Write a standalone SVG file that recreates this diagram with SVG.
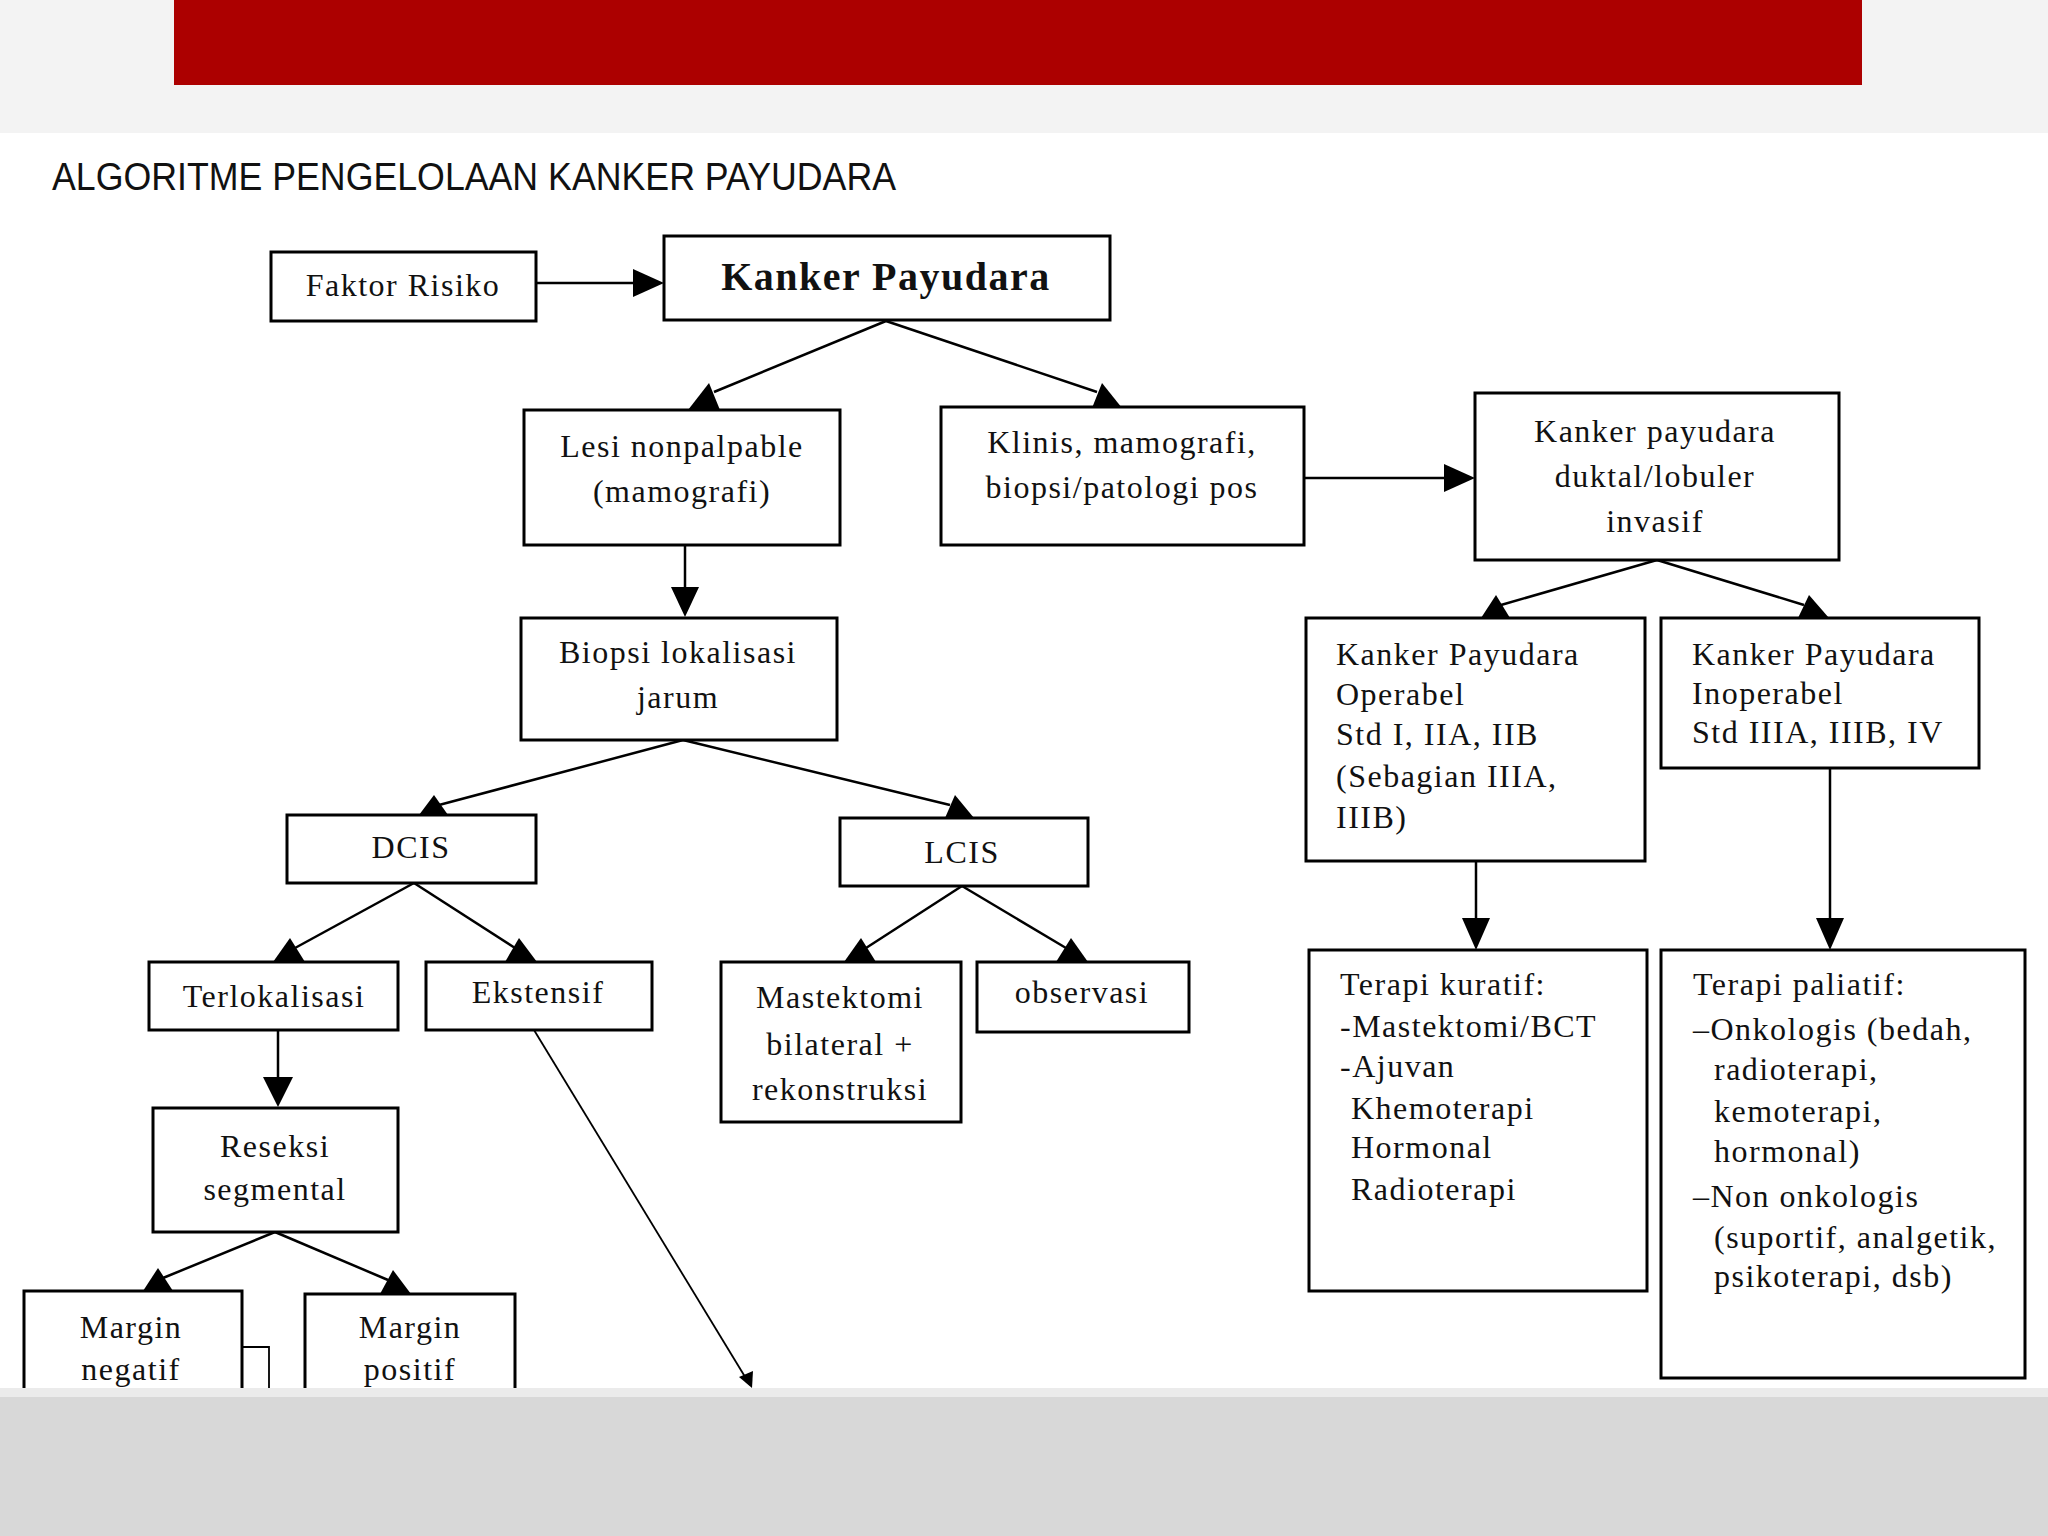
<svg xmlns="http://www.w3.org/2000/svg" width="2048" height="1536" viewBox="0 0 2048 1536">
<style>
.box{fill:#fff;stroke:#000;stroke-width:3}
.t{font-family:"Liberation Serif","Times New Roman",serif;font-size:32px;fill:#111;letter-spacing:1.5px}
.c{text-anchor:middle}
.b{font-weight:bold;font-size:40px}
.ln{stroke:#000;stroke-width:2.5;fill:none}
.thin{stroke:#000;stroke-width:1.8;fill:none}
.ah{fill:#000}
</style>
<rect x="0" y="0" width="2048" height="1536" fill="#ffffff"/>
<rect x="0" y="0" width="2048" height="133" fill="#f3f3f3"/>
<rect x="174" y="0" width="1688" height="85" fill="#ac0000"/>
<text x="52" y="190" font-family="'Liberation Sans',Arial,sans-serif" font-size="39" fill="#111" textLength="844" lengthAdjust="spacingAndGlyphs">ALGORITME PENGELOLAAN KANKER PAYUDARA</text>

<g id="connectors">
  <line class="ln" x1="536" y1="283" x2="636" y2="283"/>
  <polygon class="ah" points="633,269 664,283 633,297"/>
  <line class="ln" x1="886" y1="321" x2="714" y2="392"/>
  <polygon class="ah" points="709,383 720,410 688,410"/>
  <line class="ln" x1="886" y1="321" x2="1097" y2="392"/>
  <polygon class="ah" points="1102,383 1122,408 1092,408"/>
  <line class="ln" x1="1304" y1="478" x2="1446" y2="478"/>
  <polygon class="ah" points="1444,464 1475,478 1444,492"/>
  <line class="ln" x1="1657" y1="560" x2="1501" y2="605"/>
  <polygon class="ah" points="1496,595 1510,618 1481,618"/>
  <line class="ln" x1="1657" y1="560" x2="1804" y2="605"/>
  <polygon class="ah" points="1809,595 1829,618 1798,618"/>
  <line class="ln" x1="685" y1="545" x2="685" y2="590"/>
  <polygon class="ah" points="671,587 699,587 685,617"/>
  <line class="ln" x1="683" y1="740" x2="439" y2="805"/>
  <polygon class="ah" points="434,795 448,815 419,815"/>
  <line class="ln" x1="683" y1="740" x2="950" y2="805"/>
  <polygon class="ah" points="955,795 974,818 945,818"/>
  <line class="ln" x1="414" y1="883" x2="295" y2="948"/>
  <polygon class="ah" points="290,938 305,962 273,962"/>
  <line class="ln" x1="414" y1="883" x2="515" y2="948"/>
  <polygon class="ah" points="519,938 537,962 505,962"/>
  <line class="ln" x1="962" y1="886" x2="866" y2="948"/>
  <polygon class="ah" points="861,938 876,962 844,962"/>
  <line class="ln" x1="962" y1="886" x2="1066" y2="948"/>
  <polygon class="ah" points="1071,938 1088,962 1056,962"/>
  <line class="ln" x1="278" y1="1030" x2="278" y2="1080"/>
  <polygon class="ah" points="263,1077 293,1077 278,1107"/>
  <line class="ln" x1="275" y1="1232" x2="163" y2="1278"/>
  <polygon class="ah" points="158,1268 173,1291 143,1291"/>
  <line class="ln" x1="275" y1="1232" x2="388" y2="1280"/>
  <polygon class="ah" points="393,1270 411,1294 380,1294"/>
  <line class="ln" x1="1476" y1="861" x2="1476" y2="921"/>
  <polygon class="ah" points="1462,918 1490,918 1476,950"/>
  <line class="ln" x1="1830" y1="768" x2="1830" y2="921"/>
  <polygon class="ah" points="1816,918 1844,918 1830,950"/>
  <line class="thin" x1="534" y1="1030" x2="750" y2="1385"/>
  <polygon class="ah" points="739,1377 752,1388 753,1371"/>
  <polyline class="thin" points="242,1347 269,1347 269,1400"/>
</g>

<g id="faktor-risiko">
  <rect class="box" x="271" y="252" width="265" height="69"/>
  <text class="t c" x="403" y="296">Faktor Risiko</text>
</g>
<g id="kanker-payudara">
  <rect class="box" x="664" y="236" width="446" height="84"/>
  <text class="t c b" x="886" y="290">Kanker Payudara</text>
</g>
<g id="lesi-nonpalpable">
  <rect class="box" x="524" y="410" width="316" height="135"/>
  <text class="t c" x="682" y="457">Lesi nonpalpable</text>
  <text class="t c" x="682" y="502">(mamografi)</text>
</g>
<g id="klinis">
  <rect class="box" x="941" y="407" width="363" height="138"/>
  <text class="t c" x="1122" y="453">Klinis, mamografi,</text>
  <text class="t c" x="1122" y="498">biopsi/patologi pos</text>
</g>
<g id="kanker-invasif">
  <rect class="box" x="1475" y="393" width="364" height="167"/>
  <text class="t c" x="1655" y="442">Kanker payudara</text>
  <text class="t c" x="1655" y="487">duktal/lobuler</text>
  <text class="t c" x="1655" y="532">invasif</text>
</g>
<g id="operabel">
  <rect class="box" x="1306" y="618" width="339" height="243"/>
  <text class="t" x="1336" y="665">Kanker Payudara</text>
  <text class="t" x="1336" y="705">Operabel</text>
  <text class="t" x="1336" y="745">Std I, IIA, IIB</text>
  <text class="t" x="1336" y="787">(Sebagian IIIA,</text>
  <text class="t" x="1336" y="828">IIIB)</text>
</g>
<g id="inoperabel">
  <rect class="box" x="1661" y="618" width="318" height="150"/>
  <text class="t" x="1692" y="665">Kanker Payudara</text>
  <text class="t" x="1692" y="704">Inoperabel</text>
  <text class="t" x="1692" y="743">Std IIIA, IIIB, IV</text>
</g>
<g id="terapi-kuratif">
  <rect class="box" x="1309" y="950" width="338" height="341"/>
  <text class="t" x="1340" y="995">Terapi kuratif:</text>
  <text class="t" x="1340" y="1037">-Mastektomi/BCT</text>
  <text class="t" x="1340" y="1077">-Ajuvan</text>
  <text class="t" x="1351" y="1119">Khemoterapi</text>
  <text class="t" x="1351" y="1158">Hormonal</text>
  <text class="t" x="1351" y="1200">Radioterapi</text>
</g>
<g id="terapi-paliatif">
  <rect class="box" x="1661" y="950" width="364" height="428"/>
  <text class="t" x="1693" y="995">Terapi paliatif:</text>
  <text class="t" x="1693" y="1040">–Onkologis (bedah,</text>
  <text class="t" x="1714" y="1080">radioterapi,</text>
  <text class="t" x="1714" y="1122">kemoterapi,</text>
  <text class="t" x="1714" y="1162">hormonal)</text>
  <text class="t" x="1693" y="1207">–Non onkologis</text>
  <text class="t" x="1714" y="1248">(suportif, analgetik,</text>
  <text class="t" x="1714" y="1287">psikoterapi, dsb)</text>
</g>
<g id="biopsi">
  <rect class="box" x="521" y="618" width="316" height="122"/>
  <text class="t c" x="678" y="663">Biopsi lokalisasi</text>
  <text class="t c" x="678" y="708">jarum</text>
</g>
<g id="dcis">
  <rect class="box" x="287" y="815" width="249" height="68"/>
  <text class="t c" x="411" y="858">DCIS</text>
</g>
<g id="lcis">
  <rect class="box" x="840" y="818" width="248" height="68"/>
  <text class="t c" x="962" y="863">LCIS</text>
</g>
<g id="terlokalisasi">
  <rect class="box" x="149" y="962" width="249" height="68"/>
  <text class="t c" x="274" y="1007">Terlokalisasi</text>
</g>
<g id="ekstensif">
  <rect class="box" x="426" y="962" width="226" height="68"/>
  <text class="t c" x="538" y="1003">Ekstensif</text>
</g>
<g id="mastektomi">
  <rect class="box" x="721" y="962" width="240" height="160"/>
  <text class="t c" x="840" y="1008">Mastektomi</text>
  <text class="t c" x="840" y="1055">bilateral +</text>
  <text class="t c" x="840" y="1100">rekonstruksi</text>
</g>
<g id="observasi">
  <rect class="box" x="977" y="962" width="212" height="70"/>
  <text class="t c" x="1082" y="1003">observasi</text>
</g>
<g id="reseksi">
  <rect class="box" x="153" y="1108" width="245" height="124"/>
  <text class="t c" x="275" y="1157">Reseksi</text>
  <text class="t c" x="275" y="1200">segmental</text>
</g>
<g id="margin-negatif">
  <rect class="box" x="24" y="1291" width="218" height="140"/>
  <text class="t c" x="131" y="1338">Margin</text>
  <text class="t c" x="131" y="1380">negatif</text>
</g>
<g id="margin-positif">
  <rect class="box" x="305" y="1294" width="210" height="140"/>
  <text class="t c" x="410" y="1338">Margin</text>
  <text class="t c" x="410" y="1380">positif</text>
</g>

<rect x="0" y="1388" width="2048" height="148" fill="#d8d8d8"/>
<rect x="0" y="1388" width="2048" height="9" fill="#ebebeb"/>
</svg>
